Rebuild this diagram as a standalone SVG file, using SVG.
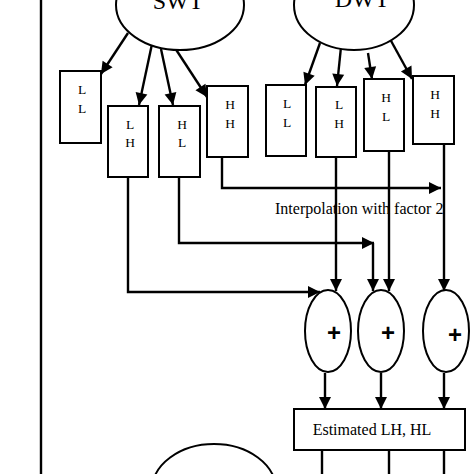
<svg xmlns="http://www.w3.org/2000/svg" width="474" height="474" viewBox="0 0 474 474">
<style>
.n{fill:#fff;stroke:#000;stroke-width:2}
.c{fill:none;stroke:#000;stroke-width:2.4}
.t{font-family:"Liberation Serif","Times New Roman",serif;fill:#000}
.s{font-size:13.5px;text-anchor:middle}
.p{font-family:"Liberation Sans",Arial,sans-serif;font-size:24px;font-weight:bold;text-anchor:middle;fill:#000}
</style>
<defs>
<marker id="a" viewBox="0 0 10 10" refX="10" refY="5" markerWidth="14" markerHeight="12" markerUnits="userSpaceOnUse" orient="auto" overflow="visible">
<path d="M0,0 L10,5 L0,10 z" fill="#000"/>
</marker>
</defs>
<g id="connectors">
<line class="c" x1="41" y1="0" x2="41" y2="486" marker-end="url(#a)"/>
<line class="c" x1="128" y1="33" x2="101" y2="74" marker-end="url(#a)"/>
<line class="c" x1="152" y1="44" x2="139" y2="105" marker-end="url(#a)"/>
<line class="c" x1="161" y1="49" x2="173" y2="105" marker-end="url(#a)"/>
<line class="c" x1="175" y1="48" x2="207" y2="97" marker-end="url(#a)"/>
<line class="c" x1="320" y1="43" x2="305" y2="85" marker-end="url(#a)"/>
<line class="c" x1="341" y1="47" x2="337" y2="86" marker-end="url(#a)"/>
<line class="c" x1="368" y1="53" x2="372" y2="79" marker-end="url(#a)"/>
<line class="c" x1="390" y1="39" x2="412" y2="79" marker-end="url(#a)"/>
<polyline class="c" points="128,177 128,292 320,292" marker-end="url(#a)"/>
<polyline class="c" points="179,147 179,243 374,243" marker-end="url(#a)"/>
<line class="c" x1="373" y1="243" x2="373" y2="291" marker-end="url(#a)"/>
<polyline class="c" points="222,157 222,188 441,188" marker-end="url(#a)"/>
<line class="c" x1="336" y1="157" x2="336" y2="291" marker-end="url(#a)"/>
<line class="c" x1="389" y1="151" x2="389" y2="291" marker-end="url(#a)"/>
<line class="c" x1="444" y1="144" x2="444" y2="291" marker-end="url(#a)"/>
<line class="c" x1="325" y1="373" x2="325" y2="409" marker-end="url(#a)"/>
<line class="c" x1="381" y1="373" x2="381" y2="409" marker-end="url(#a)"/>
<line class="c" x1="444" y1="373" x2="444" y2="409" marker-end="url(#a)"/>
<line class="c" x1="322" y1="450" x2="322" y2="474"/>
<line class="c" x1="389" y1="450" x2="389" y2="474"/>
<line class="c" x1="444" y1="450" x2="444" y2="474"/>
</g>
<g id="swt">
<ellipse class="n" cx="180" cy="5" rx="64" ry="45"/>
<text class="t" x="178" y="9" font-size="24" text-anchor="middle">SWT</text>
</g>
<g id="dwt">
<ellipse class="n" cx="354" cy="5" rx="60" ry="45"/>
<text class="t" x="362" y="7" font-size="24" text-anchor="middle">DWT</text>
</g>
<g id="swt-ll">
<rect class="n" x="60" y="71" width="41" height="72"/>
<text class="t s" x="82" y="94">L</text>
<text class="t s" x="82" y="113">L</text>
</g>
<g id="swt-lh">
<rect class="n" x="108" y="106" width="40" height="71"/>
<text class="t s" x="130" y="129">L</text>
<text class="t s" x="130" y="147">H</text>
</g>
<g id="swt-hl">
<rect class="n" x="159" y="106" width="41" height="71"/>
<text class="t s" x="182" y="129">H</text>
<text class="t s" x="182" y="147">L</text>
</g>
<g id="swt-hh">
<rect class="n" x="207" y="86" width="41" height="71"/>
<text class="t s" x="230" y="109">H</text>
<text class="t s" x="230" y="128">H</text>
</g>
<g id="dwt-ll">
<rect class="n" x="266" y="85" width="40" height="71"/>
<text class="t s" x="287" y="108">L</text>
<text class="t s" x="287" y="127">L</text>
</g>
<g id="dwt-lh">
<rect class="n" x="316" y="87" width="40" height="70"/>
<text class="t s" x="339" y="109">L</text>
<text class="t s" x="339" y="128">H</text>
</g>
<g id="dwt-hl">
<rect class="n" x="364" y="79" width="40" height="72"/>
<text class="t s" x="386" y="102">H</text>
<text class="t s" x="386" y="121">L</text>
</g>
<g id="dwt-hh">
<rect class="n" x="413" y="76" width="41" height="68"/>
<text class="t s" x="435" y="99">H</text>
<text class="t s" x="435" y="118">H</text>
</g>
<g id="interp-label">
<text class="t" x="275" y="214" font-size="16">Interpolation with factor 2</text>
</g>
<g id="sum1">
<ellipse class="n" cx="328" cy="331" rx="23" ry="41"/>
<text class="p" x="334" y="341">+</text>
</g>
<g id="sum2">
<ellipse class="n" cx="381" cy="331" rx="23" ry="41"/>
<text class="p" x="388" y="341">+</text>
</g>
<g id="sum3">
<ellipse class="n" cx="446" cy="331" rx="23" ry="41"/>
<text class="p" x="455" y="343">+</text>
</g>
<g id="estimated">
<rect class="n" x="294" y="409" width="171" height="41"/>
<text class="t" x="372" y="435" font-size="16" text-anchor="middle">Estimated LH, HL</text>
</g>
<g id="bottom-node">
<ellipse class="n" cx="214" cy="490" rx="62" ry="46"/>
</g>
</svg>
